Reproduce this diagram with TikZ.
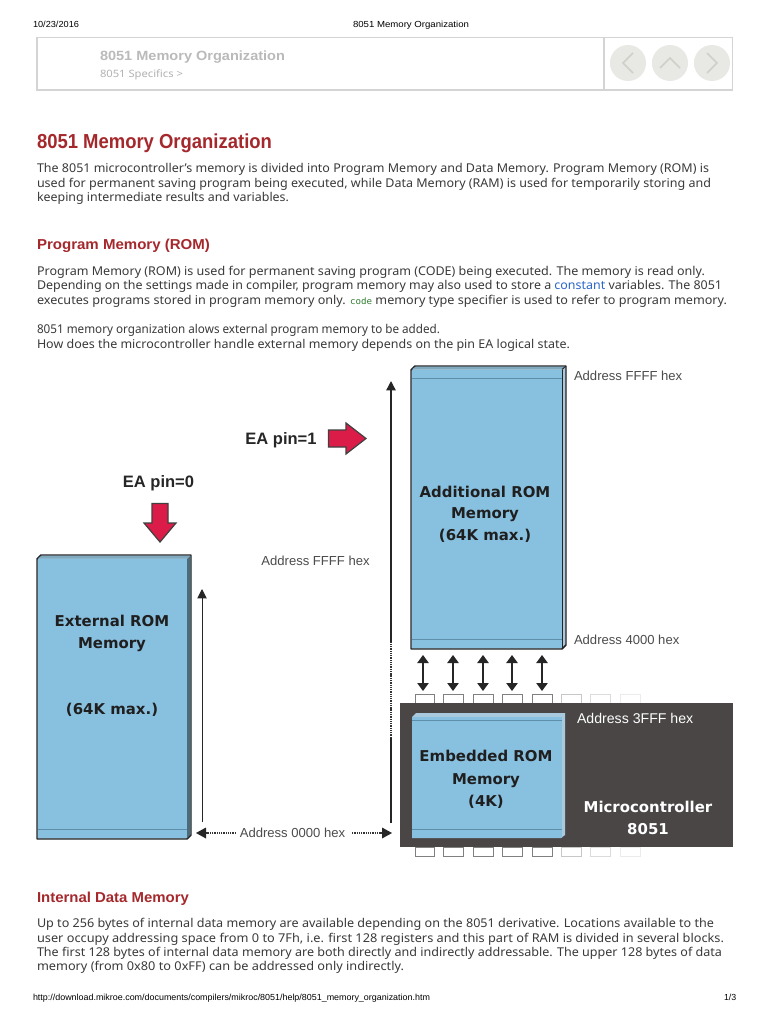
\documentclass[tikz,border=0pt]{standalone}
\usepackage{fontspec}
\usepackage{graphicx}
\setmainfont{Noto Sans}
\newfontfamily\arialf{Liberation Sans}
\newfontfamily\blackf{DejaVu Sans}
\newfontfamily\codef{DejaVu Sans Mono}
\usetikzlibrary{arrows.meta}
\definecolor{romblue}{HTML}{88C0DF}
\definecolor{romside}{HTML}{A9C9DD}
\definecolor{romtop}{HTML}{7FA9BF}
\definecolor{romdark}{HTML}{4C6B7A}
\definecolor{romline}{HTML}{5F8EA8}
\definecolor{chipdark}{HTML}{4A4646}
\definecolor{headred}{HTML}{A5282C}
\definecolor{pinkred}{HTML}{DC1C48}
\definecolor{bodygray}{HTML}{3A3A3A}
\definecolor{labelgray}{HTML}{4C4C4C}
\definecolor{boxgray}{HTML}{D4D4D4}
\definecolor{linkblue}{HTML}{2A66C8}
\definecolor{codegreen}{HTML}{2E7D2E}
\definecolor{navfill}{HTML}{E8E9E4}
\definecolor{navchev}{HTML}{CFD0C8}
\pgfdeclareradialshading{navshade}{\pgfpointorigin}{color(0bp)=(navfill); color(39bp)=(navfill); color(50bp)=(white); color(100bp)=(white)}
\newsavebox{\fitbox}
\newcommand{\fitw}[2]{\sbox{\fitbox}{#2}\pgfmathsetmacro{\fitr}{0.75*#1/\wd\fitbox}\scalebox{\fitr}[1]{\usebox{\fitbox}}}
\newcommand{\bodyf}{\fontsize{9.1}{11}\selectfont\color{bodygray}}
\tikzset{
  x=0.75pt,y=-0.75pt,
  txt/.style={anchor=base west,yshift=-3.2pt,inner sep=0pt,outer sep=0pt},
  ctxt/.style={anchor=base,yshift=-3.2pt,inner sep=0pt,outer sep=0pt,align=center},
  romface/.style={fill=romside,draw=black!85,line width=1.1pt,line join=round},
  sepline/.style={draw=romline,line width=0.6pt},
  blacktxt/.style={ctxt,yshift=-0.8pt,font=\blackf\bfseries\fontsize{11.2}{13}\selectfont,text=black!88},
  addr/.style={yshift=-0.3pt,font=\arialf\fontsize{9.8}{12}\selectfont,text=labelgray},
  bigarrow/.style={draw=black!85,line width=1pt,-{Triangle[length=7pt,width=7pt]}},
  thinarrow/.style={draw=black!85,line width=0.75pt,-{Triangle[length=7pt,width=7pt]}},
  dotarrow/.style={draw=black!80,line width=1pt,dash pattern=on 1pt off 0.7pt},
  dblarrow/.style={draw=black!85,line width=1pt,{Triangle[length=6pt,width=8.5pt]}-{Triangle[length=6pt,width=8.5pt]}},
  redarrow/.style={fill=pinkred,draw=black!75,line width=0.9pt,line join=miter},
  pin/.style={draw=#1,line width=0.5pt,fill=white},
  navcirc/.style={shading=navshade,draw=none},
  chev/.style={draw=navchev,line width=1.2pt},
  headfoot/.style={txt,yshift=0.6pt,font=\arialf\fontsize{6.6}{8}\selectfont,text=black},
  eatxt/.style={ctxt,yshift=-1.3pt,font=\arialf\bfseries\fontsize{12.4}{14}\selectfont,text=black!85}
}
\begin{document}
\begin{tikzpicture}
\useasboundingbox (0,0) rectangle (768,1024);
\fill[white] (0,0) rectangle (768,1024);
% page header / footer
\node[headfoot] (date) at (33,24) {\fitw{46}{10/23/2016}};
\node[headfoot,anchor=base] (ptitle) at (411,24) {\fitw{116}{8051 Memory Organization}};
\node[headfoot] (url) at (33,997.5) {\fitw{397}{http://download.mikroe.com/documents/compilers/mikroc/8051/help/8051\_memory\_organization.htm}};
\node[headfoot] (pageno) at (724,997.5) {1/3};
% nav box
\draw[boxgray,line width=0.9pt] (37,37.5) rectangle (732.5,90);
\draw[boxgray,line width=0.9pt] (604,37.5) -- (604,90);
\node[txt,yshift=-0.6pt,font=\arialf\bfseries\fontsize{10}{12}\selectfont,text=black!27] (navtitle) at (100,55.5) {\fitw{185}{8051 Memory Organization}};
\node[txt,yshift=0.5pt,font=\fontsize{7.6}{9}\selectfont,text=black!30] (navsub) at (100,74) {\fitw{83}{8051 Specifics >}};
\shade[navcirc] (628,63) circle (18);
\shade[navcirc] (670,63) circle (18);
\shade[navcirc] (712,63) circle (18);
\draw[chev] (633,53) -- (623,63) -- (633,73);
\draw[chev] (660,68) -- (670,58) -- (680,68);
\draw[chev] (707,53) -- (717,63) -- (707,73);
% headings and text
\node[txt,yshift=-2.4pt,font=\arialf\bfseries\fontsize{15.2}{18}\selectfont,text=headred] (h1) at (37,141) {\fitw{235}{8051 Memory Organization}};
\node[txt] (l1) at (37,168) {\bodyf\fitw{672}{The 8051 microcontroller's memory is divided into Program Memory and Data Memory. Program Memory (ROM) is}};
\node[txt] (l2) at (37,183) {\bodyf\fitw{674}{used for permanent saving program being executed, while Data Memory (RAM) is used for temporarily storing and}};
\node[txt] (l3) at (37,197) {\bodyf\fitw{252}{keeping intermediate results and variables.}};
\node[txt,yshift=-0.8pt,font=\arialf\bfseries\fontsize{10.8}{13}\selectfont,text=headred] (h2) at (37,244) {\fitw{173}{Program Memory (ROM)}};
\node[txt] (p1) at (37,271) {\bodyf\fitw{668}{Program Memory (ROM) is used for permanent saving program (CODE) being executed. The memory is read only.}};
\node[txt] (p2) at (37,285.5) {\bodyf\fitw{685}{Depending on the settings made in compiler, program memory may also used to store a {\color{linkblue}constant} variables. The 8051}};
\node[txt] (p3) at (37,300) {\bodyf\fitw{690}{executes programs stored in program memory only. {\codef\fontsize{6.6}{8}\selectfont\color{codegreen}code} memory type specifier is used to refer to program memory.}};
\node[txt] (p4) at (37,329.5) {\bodyf\fitw{403}{8051 memory organization alows external program memory to be added.}};
\node[txt] (p5) at (37,344) {\bodyf\fitw{533}{How does the microcontroller handle external memory depends on the pin EA logical state.}};
\node[txt,yshift=-0.8pt,font=\arialf\bfseries\fontsize{10.8}{13}\selectfont,text=headred] (h3) at (37,897) {\fitw{152}{Internal Data Memory}};
\node[txt] (d1) at (37,923) {\bodyf\fitw{677}{Up to 256 bytes of internal data memory are available depending on the 8051 derivative. Locations available to the}};
\node[txt] (d2) at (37,938) {\bodyf\fitw{687}{user occupy addressing space from 0 to 7Fh, i.e. first 128 registers and this part of RAM is divided in several blocks.}};
\node[txt] (d3) at (37,952) {\bodyf\fitw{685}{The first 128 bytes of internal data memory are both directly and indirectly addressable. The upper 128 bytes of data}};
\node[txt] (d4) at (37,966.5) {\bodyf\fitw{367}{memory (from 0x80 to 0xFF) can be addressed only indirectly.}};
% external ROM
\filldraw[romface] (37,839) -- (37,559) -- (41,555) -- (191,555) -- (191,835) -- (187,839) -- cycle;
\fill[romtop] (38,558.5) -- (41.5,555.8) -- (190.3,555.8) -- (187,558.5) -- cycle;
\fill[romdark] (187,559) -- (190.3,555.8) -- (190.3,834.5) -- (187,838) -- cycle;
\fill[romblue] (38,559) rectangle (186.8,838.3);
\draw[sepline] (38,829) -- (187,829);
\node[blacktxt] (ext1) at (112,621.5) {External ROM};
\node[blacktxt] (ext2) at (112,643.5) {Memory};
\node[blacktxt] (ext3) at (112,709.5) {(64K max.)};
% additional ROM
\filldraw[romface] (411,649) -- (411,370) -- (415,366) -- (566,366) -- (566,645) -- (562,649) -- cycle;
\fill[romtop] (412,369.3) -- (415.5,366.8) -- (565.3,366.8) -- (562,369.3) -- cycle;
\fill[romblue] (412,369.5) rectangle (561.5,648.3);
\draw[sepline] (412,378) -- (562,378);
\draw[sepline] (412,639) -- (562,639);
\draw[black!85,line width=0.7pt] (562,369.5) -- (562,649);
\draw[black!85,line width=0.7pt] (562,369.5) -- (566,366);
\node[blacktxt] (add1) at (485,492) {Additional ROM};
\node[blacktxt] (add2) at (485,513.5) {Memory};
\node[blacktxt] (add3) at (485,535.5) {(64K max.)};
\node[txt,addr] (a1) at (574,376) {Address FFFF hex};
\node[txt,addr] (a2) at (574,640) {Address 4000 hex};
% chip pins
\foreach \a/\b/\c in {415/434/black!50,443/463/black!50,473/493/black!50,502/522/black!50,532/552/black!50,561/581/black!22,590/610/black!14,620/640/black!8}{
  \draw[pin=\c] (\a,694) rectangle (\b,703.5);
  \draw[pin=\c] (\a,847) rectangle (\b,856);
}
% chip
\fill[chipdark] (400,703) rectangle (733,847);
\fill[romside] (412,717) -- (416,713) -- (565,713) -- (565,835) -- (561,838) -- (412,838) -- cycle;
\fill[romblue] (412,717) rectangle (561.5,838);
\draw[sepline] (412,720) -- (562,720);
\draw[sepline] (412,829) -- (562,829);
\node[blacktxt] (emb1) at (486,756) {Embedded ROM};
\node[blacktxt] (emb2) at (486,779) {Memory};
\node[blacktxt] (emb3) at (486,801) {(4K)};
\node[txt,addr,font=\arialf\fontsize{10.6}{12}\selectfont,text=white] (a3) at (577,719) {Address 3FFF hex};
\node[blacktxt,text=white] (mc1) at (648,807) {Microcontroller};
\node[blacktxt,text=white] (mc2) at (648,829) {8051};
% bus arrows
\foreach \x/\n in {423/a,453/b,483/c,512/d,542/e}{
  \coordinate (bt\n) at (\x,655);
  \coordinate (bb\n) at (\x,691);
  \draw[dblarrow] (bt\n) -- (bb\n);
}
% address arrows
\coordinate (s1) at (202,822); \coordinate (t1) at (202,589);
\draw[thinarrow] (s1) -- (t1);
\coordinate (s2) at (391,823); \coordinate (d2b) at (391,738); \coordinate (d2t) at (391,642); \coordinate (t2) at (391,381);
\draw[draw=black!85,line width=1pt] (s2) -- (d2b);
\draw[dotarrow] (d2b) -- (d2t);
\draw[bigarrow] (d2t) -- (t2);
\node[ctxt,addr] (a4) at (315.5,561) {Address FFFF hex};
\node[ctxt,addr] (a5) at (292.5,833) {Address 0000 hex};
\coordinate (la) at (236,833); \coordinate (lb) at (206,833); \coordinate (ltip) at (196,833);
\coordinate (ra) at (352,833); \coordinate (rb) at (382,833); \coordinate (rtip) at (392,833);
\draw[dotarrow] (la) -- (lb);
\fill[black!85] (ltip) -- (206,827.5) -- (206,838.5) -- cycle;
\draw[dotarrow] (ra) -- (rb);
\fill[black!85] (rtip) -- (382,827.5) -- (382,838.5) -- cycle;
% EA labels
\node[eatxt] (ea1) at (281,438.5) {EA pin=1};
\node[eatxt] (ea0) at (158.5,481) {EA pin=0};
\draw[redarrow] (328.5,430) -- (346,430) -- (346,423) -- (366,438.5) -- (346,454) -- (346,447) -- (328.5,447) -- cycle;
\draw[redarrow] (152,503.5) -- (168,503.5) -- (168,523) -- (176,523) -- (160,542) -- (144,523) -- (152,523) -- cycle;
\end{tikzpicture}
\end{document}
